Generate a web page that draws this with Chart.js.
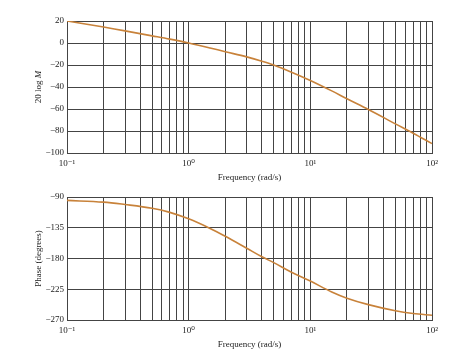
<!DOCTYPE html>
<html>
<head>
<meta charset="utf-8">
<script src="https://cdn.jsdelivr.net/npm/chart.js@4.4.1/dist/chart.umd.min.js"></script>
<style>
  body { margin: 0; background: #fff; }
  #wrap { position: relative; width: 474px; height: 356px; }
  canvas { position: absolute; left: 0; }
</style>
</head>
<body>
<div id="wrap">
  <canvas id="magChart" style="top:0"></canvas>
  <canvas id="phaseChart" style="top:170px"></canvas>
</div>
<script>
// frequencies (rad/s)
var freqs = [0.1, 0.2, 0.3, 0.5, 0.7, 1, 1.5, 2, 3, 4, 5, 7, 10, 15, 20, 30, 50, 70, 100];
// magnitude, dB
var magDb = [20, 14.5, 11, 6.5, 3.5, 0, -4.5, -7.9, -12.6, -16.5, -20, -26.5, -34, -43.5, -50.7, -60.5, -73.5, -82, -91.4];
// phase, degrees
var phaseDeg = [-95, -97.5, -101, -106.5, -112.5, -122, -136, -147.5, -165, -177.5, -186, -200, -213, -229, -238, -247.5, -256.5, -260.5, -263];

var decadeLabels = { '0.1': '10⁻¹', '1': '10⁰', '10': '10¹', '100': '10²' };
var magTicks = [20, 0, -20, -40, -60, -80, -100];
var phaseTicks = [-90, -135, -180, -225, -270];

var gridColor = '#444';
var curveColor = '#c8823a';
var serif = "'Liberation Serif', 'DejaVu Serif', serif";

function logTicks() {
  var t = [];
  [0.1, 1, 10].forEach(function(d) {
    for (var m = 1; m <= 9; m++) t.push({ value: +(m * d).toFixed(4) });
  });
  t.push({ value: 100 });
  return t;
}

function minus(v) { return String(v).replace('-', '\u2212'); }

// y title with italic M for the magnitude plot
var magTitle = {
  id: 'magTitle',
  afterDraw: function(chart) {
    var ctx = chart.ctx, a = chart.chartArea;
    ctx.save();
    ctx.translate(39, (a.top + a.bottom) / 2);
    ctx.rotate(-Math.PI / 2);
    ctx.fillStyle = '#222';
    ctx.textBaseline = 'middle';
    ctx.font = '9px ' + serif;
    var p1 = '20 log ';
    var w1 = ctx.measureText(p1).width;
    ctx.font = 'italic 9px ' + serif;
    var w2 = ctx.measureText('M').width;
    var x0 = -(w1 + w2) / 2;
    ctx.font = '9px ' + serif;
    ctx.textAlign = 'left';
    ctx.fillText(p1, x0, 0);
    ctx.font = 'italic 9px ' + serif;
    ctx.fillText('M', x0 + w1, 0);
    ctx.restore();
  }
};

function makeChart(id, padTop, values, yMin, yMax, yTicks, yTitle, plugins) {
  var ctx = document.getElementById(id).getContext('2d');
  return new Chart(ctx, {
    type: 'line',
    data: {
      datasets: [{
        data: freqs.map(function(f, i) { return { x: f, y: values[i] }; }),
        borderColor: curveColor,
        borderWidth: 1.6,
        pointRadius: 0,
        fill: false,
        tension: 0.35
      }]
    },
    plugins: plugins,
    options: {
      responsive: false,
      animation: false,
      devicePixelRatio: 1,
      layout: { padding: { left: 0, right: 42, top: padTop, bottom: 0 } },
      plugins: { legend: { display: false }, tooltip: { enabled: false } },
      scales: {
        x: {
          type: 'logarithmic',
          min: 0.1,
          max: 100,
          afterBuildTicks: function(s) { s.ticks = logTicks(); },
          afterFit: function(s) { s.height = 36; },
          grid: { color: gridColor, lineWidth: 1, drawTicks: false },
          border: { color: gridColor, width: 1 },
          ticks: {
            autoSkip: false,
            maxRotation: 0,
            padding: 5,
            color: '#222',
            font: { family: serif, size: 9 },
            callback: function(v) { return decadeLabels[String(+v.toFixed(4))] || ''; }
          },
          title: {
            display: true,
            text: 'Frequency (rad/s)',
            color: '#222',
            font: { family: serif, size: 9 },
            padding: { top: 0, bottom: 6 }
          }
        },
        y: {
          min: yMin,
          max: yMax,
          afterBuildTicks: function(s) { s.ticks = yTicks.map(function(v) { return { value: v }; }); },
          afterFit: function(s) { s.width = 67; },
          grid: { color: gridColor, lineWidth: 1, drawTicks: false },
          border: { color: gridColor, width: 1 },
          ticks: {
            padding: 3,
            color: '#222',
            font: { family: serif, size: 9 },
            callback: function(v) { return minus(v); }
          },
          title: {
            display: !!yTitle,
            text: yTitle,
            color: '#222',
            font: { family: serif, size: 9 },
            padding: { top: 33, bottom: 0 }
          }
        }
      }
    }
  });
}

document.getElementById('magChart').width = 474;
document.getElementById('magChart').height = 189;
document.getElementById('phaseChart').width = 474;
document.getElementById('phaseChart').height = 186;

var magChart = makeChart('magChart', 21, magDb, -100, 20, magTicks, '', [magTitle]);
var phaseChart = makeChart('phaseChart', 27, phaseDeg, -270, -90, phaseTicks, 'Phase (degrees)', []);
</script>
</body>
</html>
